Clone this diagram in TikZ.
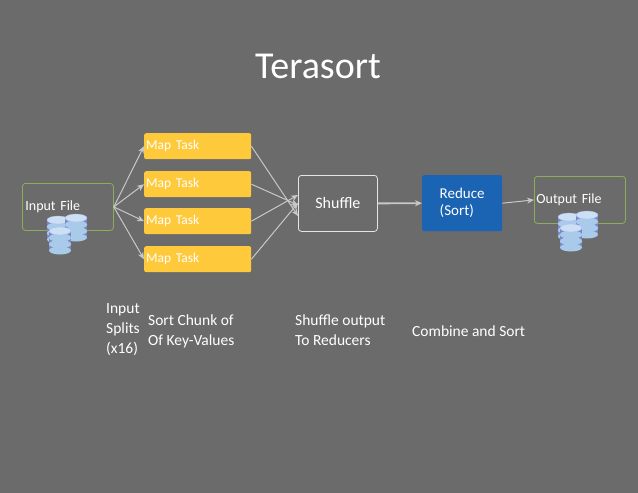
\documentclass[tikz,border=0pt]{standalone}
\usepackage{fontspec}
\setmainfont{Carlito}
\usetikzlibrary{arrows.meta}
\definecolor{bg}{HTML}{6B6B6B}
\definecolor{mapc}{HTML}{FFC93C}
\definecolor{arr}{HTML}{C8C8C8}
\definecolor{redc}{HTML}{1B63B3}
\definecolor{grn}{HTML}{8AAE5A}
\definecolor{dbc}{HTML}{A9CBEA}
\tikzset{
 x=1pt,y=-1pt,
 map/.style={fill=mapc,rounded corners=2pt,minimum width=107pt,minimum height=26pt,text width=103pt,align=left,text=white,font=\fontsize{13.5}{15}\selectfont,anchor=north west,inner sep=2pt},
 file/.style={draw=grn,line width=0.8pt,rounded corners=3pt,minimum width=91pt,minimum height=47pt,anchor=north west,text=white,font=\fontsize{14}{16}\selectfont,inner sep=0pt},
 con/.style={draw=arr,line width=1pt,-{Stealth[length=7pt,width=6pt]}},
 lab/.style={text=white,font=\fontsize{15.5}{20}\selectfont,align=left,anchor=north west,inner sep=0pt},
 cyl/.pic={
  \foreach \k in {2,1,0}{
   \fill[dbc!70!blue!60!gray] (-11,\k*6.5) rectangle (11,\k*6.5+6.5);
   \fill[dbc] (0,\k*6.5+6.5) ellipse (11pt and 4pt);
   \fill[dbc!60!white] (0,\k*6.5) ellipse (11pt and 4pt);
   \draw[white!70!blue,line width=0.3pt] (0,\k*6.5) ellipse (11pt and 4pt);
  }
 },
 stack/.pic={
  \pic at (-8,0) {cyl};
  \pic at (10,-2) {cyl};
  \pic at (-6,11) {cyl};
 }
}
\begin{document}
\begin{tikzpicture}
\fill[bg] (0,0) rectangle (638,493);
\useasboundingbox (0,0) rectangle (638,493);
\node[text=white,font=\fontsize{38}{40}\selectfont] (t) at (318,66) {Terasort};
\node[file,text width=89pt,align=left] (in) at (22,183) {\hspace{2pt}Input File};
\node[map] (m1) at (144,133) {Map Task};
\node[map] (m2) at (144,171) {Map Task};
\node[map] (m3) at (144,208) {Map Task};
\node[map] (m4) at (144,246) {Map Task};
\node[draw=white!80!gray,line width=0.8pt,rounded corners=3pt,minimum width=79pt,minimum height=56pt,anchor=north west,text=white,font=\fontsize{16}{18}\selectfont] (sh) at (298,175) {Shuffle};
\node[fill=redc,rounded corners=2pt,minimum width=80pt,minimum height=56pt,anchor=north west,text=white,font=\fontsize{15}{17}\selectfont,align=left] (re) at (422,175) {Reduce\\(Sort)};
\node[file,text width=89pt,align=left] (out) at (534,176) {\hspace{1pt}Output File\\[6pt]};
\pic at (66,220) {stack};
\pic at (577,217) {stack};
\coordinate (s1) at (298,216);
\coordinate (s2) at (298,205);
\coordinate (s3) at (298,195);
\coordinate (s4) at (298,203);
\foreach \m in {m1,m2,m3,m4}{\draw[con] (in.east) -- (\m.west);}
\draw[con] (m1.east) -- (s1);
\draw[con] (m2.east) -- (s2);
\draw[con] (m3.east) -- (s3);
\draw[con] (m4.east) -- (s4);
\draw[con,line width=1.8pt] (sh.east) -- (re.west);
\draw[con] (re.east) -- (out.west);
\node[lab] (l1) at (106,303) {Input\\Splits\\(x16)};
\node[lab] (l2) at (148,315) {Sort Chunk of\\Of Key-Values};
\node[lab] (l3) at (295,315) {Shuffle output\\To Reducers};
\node[lab] (l4) at (412,326) {Combine and Sort};
\end{tikzpicture}
\end{document}
